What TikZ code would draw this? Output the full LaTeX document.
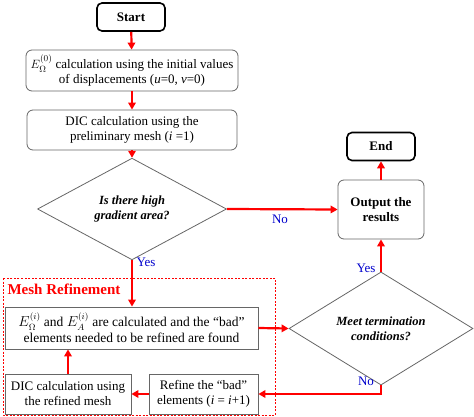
\documentclass[tikz,border=0pt]{standalone}
\usepackage{amsmath}
\usepackage{fontspec}
\setmainfont{Liberation Serif}
\usetikzlibrary{shapes.geometric,arrows.meta}

\tikzset{
    startbox/.style={draw=black,line width=1.6pt,rounded corners=5pt,fill=white,
        font=\fontsize{13}{15}\selectfont\bfseries,minimum width=68pt,minimum height=28pt},
    procbox/.style={draw=black!60,line width=0.8pt,rounded corners=6pt,fill=white,
        align=center,font=\fontsize{13}{15}\selectfont,inner sep=1pt},
    rectbox/.style={draw=black!60,line width=0.8pt,fill=white,
        align=center,font=\fontsize{13}{15}\selectfont,inner sep=1pt},
    decision/.style={diamond,draw=black!60,line width=0.8pt,fill=white,inner sep=0pt,
        align=center,font=\fontsize{12.5}{15}\selectfont\bfseries\itshape},
    flow/.style={draw=red,line width=2.2pt,-{Triangle[length=7pt,width=7.5pt]}},
    answer/.style={text=blue!80!black,font=\fontsize{13}{15}\selectfont},
}

\begin{document}
\begin{tikzpicture}[x=1pt,y=-1pt]
    \useasboundingbox (0,0) rectangle (474,417);

        % mesh refinement frame
        \draw[red,line width=0.6pt,dash pattern=on 2pt off 1.5pt] (3,278) rectangle (275,415);
        \node[text=red,font=\fontsize{15}{17}\selectfont\bfseries] (meshlbl) at (64,289) {Mesh Refinement};

        \node[startbox] (start) at (131,17) {Start};
        \node[procbox,minimum width=212pt,minimum height=41pt] (init) at (132,70.5)
            {$E_{\Omega}^{(0)}$ calculation using the initial values\\of displacements (\textit{u}=0, \textit{v}=0)};
        \node[procbox,minimum width=210pt,minimum height=40pt] (prelim) at (132,130)
            {DIC calculation using the\\preliminary mesh (\textit{i} =1)};
        \node[decision,minimum width=189pt,minimum height=78pt] (gradient) at (132,209)
            {Is there high\\gradient area?};
        \node[procbox,font=\fontsize{13}{15}\selectfont\bfseries,minimum width=86pt,minimum height=59pt] (output) at (381,209.5)
            {Output the\\results};
        \node[startbox] (end) at (381,146.5) {End};

        \node[rectbox,font=\fontsize{13.5}{16}\selectfont,minimum width=253pt,minimum height=42pt] (found) at (131.5,328)
            {$E_{\Omega}^{(i)}$ and $E_{A}^{(i)}$ are calculated and the ``bad''\\elements needed to be refined are found};
        \node[decision,minimum width=184pt,minimum height=87pt] (termin) at (381,328.5)
            {Meet termination\\conditions?};
        \node[rectbox,minimum width=109pt,minimum height=40pt] (refine) at (203.5,394)
            {Refine the ``bad''\\elements (\textit{i} = \textit{i}+1)};
        \node[rectbox,minimum width=126pt,minimum height=40pt] (refined) at (68,394)
            {DIC calculation using\\the refined mesh};

        \draw[flow] (start) -- (init);
        \draw[flow] (init) -- (prelim);
        \draw[flow] (prelim) -- (gradient);
        \draw[flow] (gradient.east) -- (output.west);
        \draw[flow] (output) -- (end);
        \draw[flow] (gradient.south) -- (found.north -| gradient.south);
        \draw[flow] (found.east) -- (termin.west);
        \draw[flow] (termin.north) -- (output.south);
        \draw[flow] (termin.south) |- (refine.east);
        \draw[flow] (refine) -- (refined);
        \draw[flow] (refined.north) -- (refined.north |- found.south);

        \node[answer] (no1) at (280,219) {No};
        \node[answer] (yes1) at (146,262) {Yes};
        \node[answer] (yes2) at (366,268) {Yes};
        \node[answer] (no2) at (366,381) {No};

\end{tikzpicture}
\end{document}
